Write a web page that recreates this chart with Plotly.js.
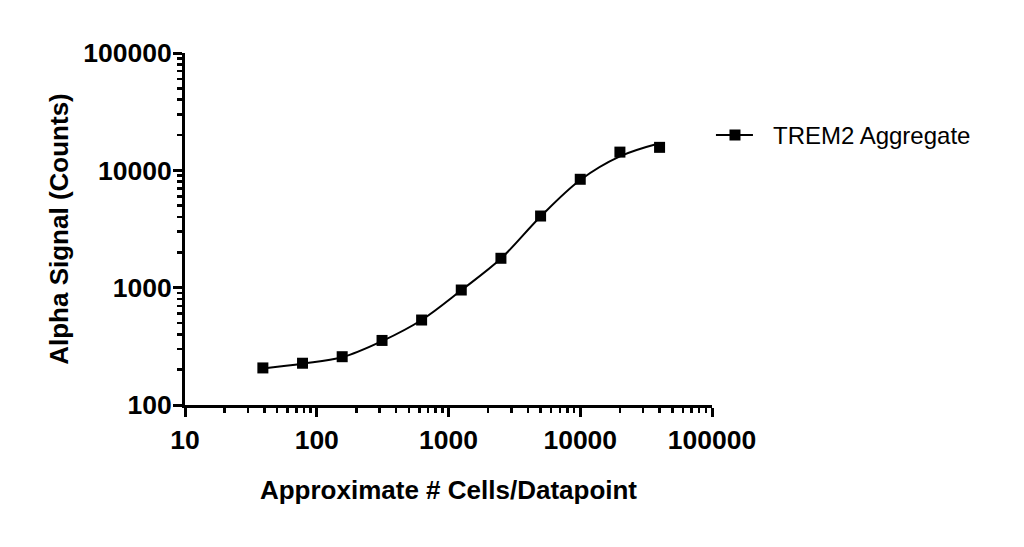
<!DOCTYPE html>
<html>
<head>
<meta charset="utf-8">
<script src="https://cdn.plot.ly/plotly-3.0.1.min.js"></script>
<style>
  html, body { margin: 0; padding: 0; background: #fff; }
  #chart { width: 1024px; height: 547px; }
</style>
</head>
<body>
<div id="chart"></div>
<script>
// Measured points: approximate cell count per datapoint vs. Alpha signal
const cells  = [39, 78, 156, 313, 625, 1250, 2500, 5000, 10000, 20000, 40000];
const signal = [207, 227, 258, 355, 530, 955, 1780, 4080, 8390, 14300, 15700];

// Fitted dose-response curve, sampled at the same cell counts
const fitCells  = [39, 78, 156, 313, 625, 1250, 2500, 5000, 10000, 20000, 40000];
const fitSignal = [205, 225, 255, 350, 530, 950, 1770, 4040, 8270, 13150, 17000];

// Axis tick labels
const xTickVals = [10, 100, 1000, 10000, 100000];
const xTickText = ['10', '100', '1000', '10000', '100000'];
const yTickVals = [100, 1000, 10000, 100000];
const yTickText = ['100', '1000', '10000', '100000'];

const seriesName = 'TREM2 Aggregate';
const FONT = 'Liberation Sans, Arial, sans-serif';

const traces = [
  {
    // fitted curve: its legend entry only draws the short line segment
    x: fitCells, y: fitSignal,
    type: 'scatter', mode: 'lines',
    line: { color: '#000', width: 2, shape: 'spline', smoothing: 1 },
    name: '', legend: 'legend', hoverinfo: 'skip'
  },
  {
    // data points: its legend entry draws the square and the label
    x: cells, y: signal,
    type: 'scatter', mode: 'markers',
    marker: { symbol: 'square', size: 11, color: '#000' },
    name: seriesName, legend: 'legend2'
  }
];

const axisCommon = {
  type: 'log',
  showgrid: false, zeroline: false,
  showline: true, linecolor: '#000', linewidth: 3,
  ticks: 'outside', ticklen: 9, tickwidth: 3, tickcolor: '#000',
  tickmode: 'array',
  minor: { ticks: 'outside', ticklen: 5, tickwidth: 2.5, tickcolor: '#000', dtick: 'D1', showgrid: false },
  tickfont: { family: FONT, size: 26.5, weight: 'bold', color: '#000' },
  automargin: false, fixedrange: true
};

const legendBase = {
  y: 0.766, yanchor: 'middle', xanchor: 'left',
  bgcolor: 'rgba(0,0,0,0)', borderwidth: 0,
  font: { family: FONT, size: 24, color: '#000' }
};

const layout = {
  width: 1024, height: 547,
  margin: { l: 185, r: 312, t: 53, b: 142 },
  paper_bgcolor: '#fff', plot_bgcolor: '#fff',
  showlegend: true,
  xaxis: Object.assign({}, axisCommon, {
    range: [1, 5],
    tickvals: xTickVals, ticktext: xTickText,
    title: { text: 'Approximate # Cells/Datapoint', standoff: 28,
             font: { family: FONT, size: 26, weight: 'bold', color: '#000' } }
  }),
  yaxis: Object.assign({}, axisCommon, {
    range: [2, 5],
    tickvals: yTickVals, ticktext: yTickText,
    ticklabelstandoff: -4,
    title: { text: 'Alpha Signal (Counts)', standoff: 8,
             font: { family: FONT, size: 26, weight: 'bold', color: '#000' } }
  }),
  legend: Object.assign({}, legendBase, { x: 0.998, itemwidth: 37 }),
  legend2: Object.assign({}, legendBase, { x: 0.9715, itemwidth: 66 })
};

Plotly.newPlot('chart', traces, layout, { displayModeBar: false, staticPlot: true });
</script>
</body>
</html>
